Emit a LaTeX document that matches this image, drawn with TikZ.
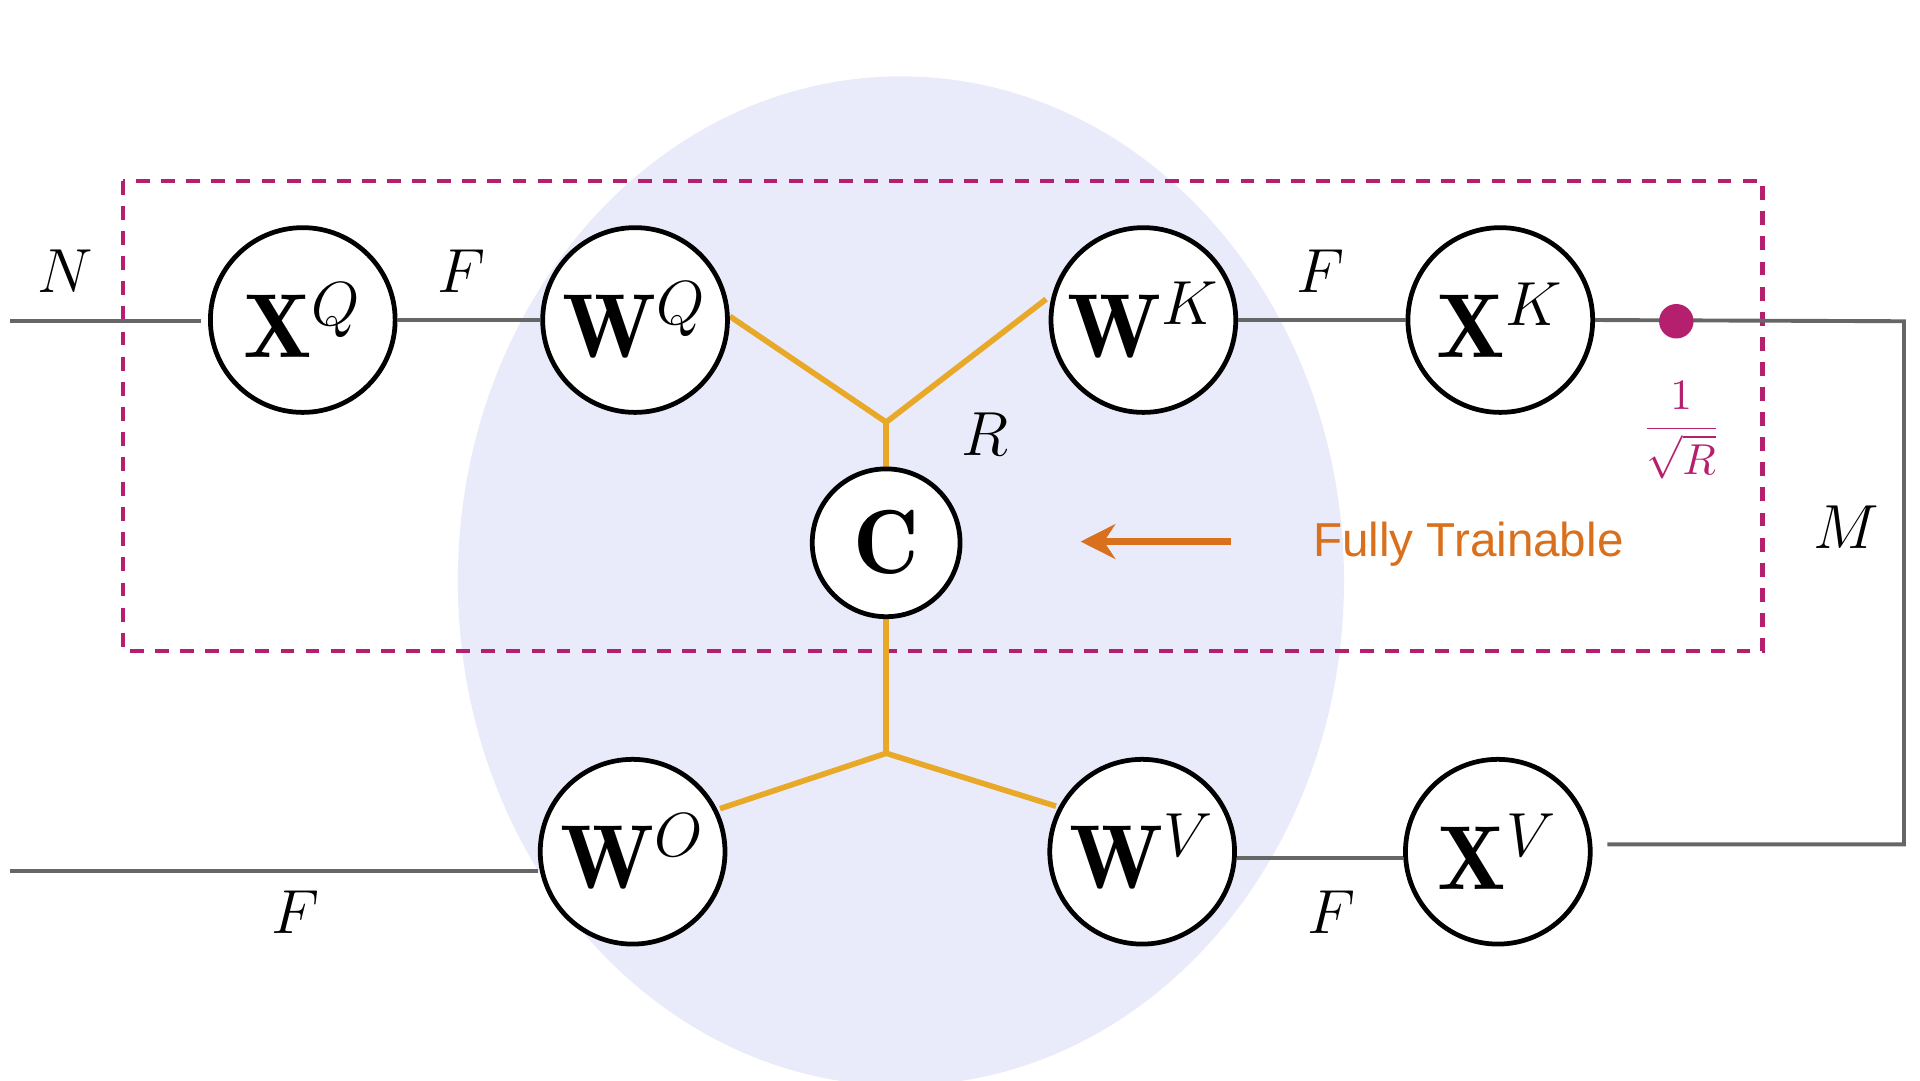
\documentclass[tikz,border=0pt]{standalone}
\usepackage{fontspec}
\newfontfamily\sans{Liberation Sans}
\usetikzlibrary{arrows.meta}
\definecolor{lav}{HTML}{EAEBFA}
\definecolor{mag}{HTML}{B5206E}
\definecolor{gol}{HTML}{E8A828}
\definecolor{org}{HTML}{D9701E}
\definecolor{gry}{HTML}{666666}
\begin{document}
\begin{tikzpicture}[x=0.01cm,y=-0.01cm,
  nd/.style={circle,draw=black,line width=1.1pt,fill=white,minimum size=#1*0.02cm,inner sep=0pt,font=\fontsize{21}{24}\selectfont},
  nd/.default=75,
  gl/.style={gry,line width=0.9pt},
  ol/.style={gol,line width=1.3pt},
  lb/.style={font=\fontsize{15}{18}\selectfont}]
\useasboundingbox (0,0) rectangle (1560,877.5);
\begin{scope}
\clip (0,0) rectangle (1560,877.5);
\fill[lav] (732,472) ellipse [x radius=360, y radius=410];
\end{scope}
\draw[mag,line width=1.1pt,dash pattern=on 3.2pt off 2.6pt] (100,147) rectangle (1432,529);
\coordinate (jt) at (720,343);
\coordinate (jb) at (720,612);
\draw[ol] (593,257) -- (jt) -- (850,243);
\draw[ol] (jt) -- (720,441);
\draw[ol] (720,441) -- (jb);
\draw[ol] (585,657) -- (jb) -- (858,655);
\node[nd] (xq) at (246,260) {$\mathbf{X}^{Q}$};
\node[nd] (wq) at (516,260) {$\mathbf{W}^{Q}$};
\node[nd] (wk) at (929,260) {$\mathbf{W}^{K}$};
\node[nd] (xk) at (1219,260) {$\mathbf{X}^{K}$};
\node[nd=60] (c) at (720,441) {$\mathbf{C}$};
\node[nd] (wo) at (514,692) {$\mathbf{W}^{O}$};
\node[nd] (wv) at (928,692) {$\mathbf{W}^{V}$};
\node[nd] (xv) at (1217,692) {$\mathbf{X}^{V}$};
\coordinate (in) at (8,261);
\coordinate (ine) at (163,261);
\coordinate (out) at (8,708);
\coordinate (c1) at (1547,261);
\coordinate (c2) at (1547,686);
\coordinate (c3) at (1306,686);
\draw[gl] (in) -- (ine);
\draw[gl] (xq.east) -- (wq.west);
\draw[gl] (wk.east) -- (xk.west);
\draw[gl] (xk.east) -- (c1) -- (c2) -- (c3);
\draw[gl] (wv.east|-0,697) -- (xv.west|-0,697);
\draw[gl] (out) -- (wo.west|-0,708);
\node[circle,fill=mag,minimum size=0.28cm,inner sep=0pt] (dot) at (1362,261) {};
\node[mag,font=\fontsize{10}{12}\selectfont] (sc) at (1366,350) {$\displaystyle\frac{1}{\sqrt{R}}$};
\coordinate (as) at (1000,440);
\coordinate (ae) at (878,440);
\draw[org,line width=1.5pt,-{Stealth[length=8pt,width=8pt]}] (as) -- (ae);
\node[org,font=\sans\fontsize{11}{13}\selectfont] (ft) at (1193,442) {Fully Trainable};
\node[lb] (ln) at (53,220) {$N$};
\node[lb] (lf1) at (375,220) {$F$};
\node[lb] (lf2) at (1073,220) {$F$};
\node[lb] (lr) at (800,353) {$R$};
\node[lb] (lm) at (1500,428) {$M$};
\node[lb] (lf3) at (240,741) {$F$};
\node[lb] (lf4) at (1082,741) {$F$};
\end{tikzpicture}
\end{document}
